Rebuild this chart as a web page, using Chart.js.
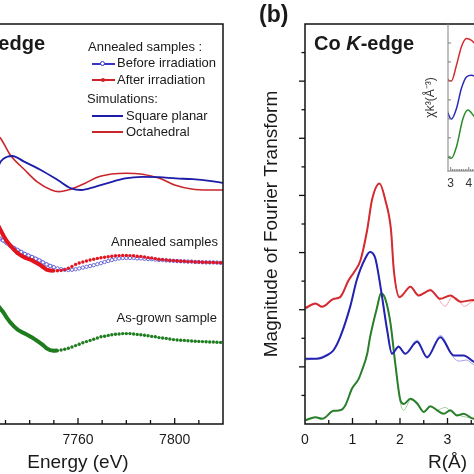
<!DOCTYPE html>
<html>
<head>
<meta charset="utf-8">
<script src="https://cdn.jsdelivr.net/npm/chart.js@4.4.1/dist/chart.umd.min.js"></script>
<style>
  html, body { margin: 0; padding: 0; background: #fff; }
  body { position: relative; width: 474px; height: 474px; overflow: hidden;
         font-family: "Liberation Sans", Arial, sans-serif; color: #1a1a1a; }
  canvas { position: absolute; top: 0; }
  .t { position: absolute; white-space: nowrap; font-size: 13px; line-height: 15px; }
  .big { position: absolute; white-space: nowrap; font-weight: bold; font-size: 20px; line-height: 22px; }
  .ln { position: absolute; }
  .mk { position: absolute; border-radius: 50%; box-sizing: border-box; }
</style>
</head>
<body>
<canvas id="xanes" width="357" height="474" style="left:-120px"></canvas>
<canvas id="ft" width="370" height="474" style="left:237px"></canvas>
<canvas id="kspace" width="140" height="200" style="left:400px"></canvas>

<div class="big" style="left:-55px;top:32px">Co <i>K</i>-edge</div>
<div class="big" style="left:314px;top:32px">Co <i>K</i>-edge</div>
<div class="big" style="left:259px;top:2px;font-size:23px;line-height:24px">(b)</div>

<div class="t" style="left:88px;top:39px">Annealed samples :</div>
<div class="ln" style="left:92px;top:63px;width:23px;height:1.5px;background:#3535c8"></div>
<div class="mk" style="left:100px;top:61px;width:5px;height:5px;border:1px solid #3535c8;background:#fff"></div>
<div class="t" style="left:117px;top:55px">Before irradiation</div>
<div class="ln" style="left:92px;top:79px;width:23px;height:1.5px;background:#d42028"></div>
<div class="mk" style="left:101px;top:78px;width:4px;height:4px;background:#d42028"></div>
<div class="t" style="left:117px;top:72px">After irradiation</div>
<div class="t" style="left:87px;top:91px">Simulations:</div>
<div class="ln" style="left:92px;top:115px;width:31px;height:2px;background:#1c1ca8"></div>
<div class="t" style="left:126px;top:108px">Square planar</div>
<div class="ln" style="left:92px;top:131px;width:31px;height:1.6px;background:#c9262c"></div>
<div class="t" style="left:126px;top:124px">Octahedral</div>

<div class="t" style="right:256px;top:234px">Annealed samples</div>
<div class="t" style="right:257px;top:310px">As-grown sample</div>

<script>
// ---- (a) XANES, energies in eV, intensity offset units ----
var expEnergy = [7726, 7727.5, 7729, 7730.5, 7732, 7733.5, 7735, 7736.5, 7738, 7739.5,
  7741, 7742.5, 7744, 7745.5, 7747, 7748.5, 7750, 7751.5, 7753, 7754.5,
  7756, 7757.5, 7759, 7760.5, 7762, 7763.5, 7765, 7766.5, 7768, 7769.5,
  7771, 7772.5, 7774, 7775.5, 7777, 7778.5, 7780, 7781.5, 7783, 7784.5,
  7786, 7787.5, 7789, 7790.5, 7792, 7793.5, 7795, 7796.5, 7798, 7799.5,
  7801, 7802.5, 7804, 7805.5, 7807, 7808.5, 7810, 7811.5, 7813, 7814.5,
  7816, 7817.5, 7819];
var afterIrr = [50.75, 49.0, 47.25, 45.75, 44.6, 43.6, 42.7, 42.1, 41.6, 41.25,
  40.9, 40.4, 39.9, 39.25, 38.6, 38.4, 38.3, 38.3, 38.4, 38.6,
  38.95, 39.4, 39.9, 40.25, 40.5, 40.75, 41.0, 41.2, 41.4, 41.55,
  41.7, 41.8, 41.95, 42.05, 42.1, 42.15, 42.15, 42.1, 42.05, 41.95,
  41.9, 41.75, 41.6, 41.5, 41.35, 41.2, 41.1, 41.0, 40.9, 40.85,
  40.8, 40.7, 40.7, 40.6, 40.6, 40.5, 40.5, 40.45, 40.45, 40.4,
  40.4, 40.35, 40.3];
var beforeIrr = [46.75, 46.4, 45.9, 45.25, 44.6, 44.0, 43.5, 43.0, 42.5, 42.1,
  41.75, 41.3, 40.9, 40.4, 39.9, 39.5, 39.2, 38.9, 38.7, 38.55,
  38.5, 38.55, 38.7, 38.9, 39.1, 39.3, 39.5, 39.7, 39.95, 40.2,
  40.5, 40.75, 41.0, 41.2, 41.4, 41.5, 41.5, 41.5, 41.5, 41.4,
  41.4, 41.3, 41.25, 41.2, 41.1, 41.0, 41.0, 40.9, 40.85, 40.8,
  40.75, 40.7, 40.65, 40.6, 40.6, 40.5, 40.5, 40.45, 40.4, 40.4,
  40.4, 40.35, 40.3];
var asGrown = [30.25, 29.1, 28.0, 26.6, 25.4, 24.4, 23.6, 23.05, 22.6, 22.1,
  21.6, 21.05, 20.4, 19.75, 18.9, 18.45, 18.3, 18.35, 18.5, 18.7,
  18.95, 19.25, 19.6, 19.95, 20.3, 20.6, 20.9, 21.2, 21.5, 21.8,
  21.95, 22.15, 22.3, 22.45, 22.5, 22.6, 22.6, 22.6, 22.5, 22.4,
  22.3, 22.2, 22.05, 21.9, 21.8, 21.6, 21.5, 21.4, 21.25, 21.1,
  21.0, 20.95, 20.9, 20.8, 20.75, 20.7, 20.65, 20.6, 20.55, 20.5,
  20.5, 20.45, 20.4];
var octE = [7722, 7726.5, 7728, 7732, 7738, 7743, 7749, 7752, 7757, 7763,
  7768, 7774, 7780, 7786, 7794, 7800, 7807, 7814, 7820];
var octV = [77, 72.25, 71.4, 67.25, 63.5, 60.6, 58.5, 58.1, 58.7, 60.2,
  61.7, 62.5, 62.7, 62.5, 61.4, 59.75, 58.75, 58.5, 58.5];
var sqE = [7722, 7726.5, 7728, 7730.7, 7732.8, 7737.7, 7744.6, 7751.6, 7757.2, 7761.4,
  7767, 7772.6, 7779.5, 7786.5, 7793.5, 7800.5, 7807.4, 7814.4, 7820];
var sqV = [57, 63.5, 65.6, 66.8, 67, 65.6, 63.5, 61, 58.9, 58.5,
  59.3, 60.3, 61.4, 61.8, 61.7, 61.4, 61.2, 60.8, 60.3];

// ---- (b) Fourier transform magnitude vs R (Å) ----
var redR = [0.01, 0.22, 0.36, 0.6, 0.74, 0.92, 1.06, 1.17, 1.31, 1.41, 1.57, 1.69,
  1.81, 1.87, 1.99, 2.22, 2.39, 2.64, 2.85, 3.06, 3.27, 3.55, 3.7];
var redV = [2.03, 2.11, 2.05, 2.19, 2.22, 2.52, 2.69, 2.87, 3.4, 3.92, 4.21, 3.92,
  3.4, 2.69, 2.22, 2.4, 2.25, 2.34, 2.19, 2.25, 2.14, 2.17, 2.15];
var redFitR = [0.01, 0.22, 0.36, 0.6, 0.74, 0.92, 1.06, 1.17, 1.31, 1.41, 1.57, 1.69,
  1.81, 1.87, 1.99, 2.22, 2.39, 2.64, 2.8, 2.95, 3.1, 3.2, 3.36, 3.55, 3.7];
var redFitV = [2.0, 2.1, 2.06, 2.18, 2.24, 2.5, 2.7, 2.88, 3.4, 3.92, 4.2, 3.93,
  3.4, 2.7, 2.24, 2.4, 2.24, 2.36, 2.2, 2.06, 2.22, 2.2, 2.06, 2.15, 2.15];
var blueR = [0.01, 0.25, 0.46, 0.6, 0.74, 0.95, 1.09, 1.27, 1.37, 1.48, 1.59, 1.73,
  1.83, 1.97, 2.11, 2.36, 2.57, 2.85, 3.13, 3.34, 3.55, 3.7];
var blueV = [1.14, 1.14, 1.2, 1.29, 1.52, 2.05, 2.52, 2.9, 3.01, 2.9, 2.4, 1.64,
  1.23, 1.35, 1.23, 1.44, 1.17, 1.52, 1.2, 1.2, 1.09, 1.05];
var blueFitR = [0.01, 0.25, 0.46, 0.6, 0.74, 0.95, 1.09, 1.27, 1.37, 1.48, 1.59, 1.73,
  1.83, 1.97, 2.11, 2.36, 2.57, 2.85, 3.13, 3.25, 3.4, 3.55, 3.7];
var blueFitV = [1.12, 1.15, 1.22, 1.3, 1.52, 2.05, 2.52, 2.9, 3.02, 2.9, 2.4, 1.64,
  1.25, 1.37, 1.22, 1.47, 1.15, 1.55, 1.16, 1.1, 1.12, 1.04, 1.03];
var greenR = [0.01, 0.22, 0.36, 0.6, 0.74, 0.85, 0.99, 1.13, 1.2, 1.31, 1.37, 1.52,
  1.6, 1.69, 1.8, 1.9, 2.01, 2.08, 2.22, 2.36, 2.5, 2.64, 2.78, 2.92, 3.06, 3.2,
  3.34, 3.55, 3.7];
var greenV = [0.065, 0.12, 0.09, 0.23, 0.24, 0.33, 0.62, 0.79, 0.94, 1.23, 1.52, 2.05,
  2.29, 2.19, 1.76, 1.06, 0.41, 0.35, 0.44, 0.36, 0.21, 0.31, 0.24, 0.18, 0.24, 0.15,
  0.18, 0.09, 0.1];
var greenFitR = [0.01, 0.22, 0.36, 0.6, 0.74, 0.85, 0.99, 1.13, 1.2, 1.31, 1.37, 1.52,
  1.6, 1.69, 1.8, 1.9, 2.01, 2.08, 2.22, 2.36, 2.5, 2.64, 2.8, 2.95, 3.1, 3.25,
  3.4, 3.55, 3.7];
var greenFitV = [0.06, 0.12, 0.1, 0.22, 0.25, 0.33, 0.62, 0.79, 0.94, 1.23, 1.52, 2.05,
  2.28, 2.2, 1.76, 1.06, 0.36, 0.24, 0.42, 0.38, 0.2, 0.3, 0.25, 0.29, 0.2, 0.15,
  0.12, 0.1, 0.1];

// ---- inset: chi(k) k^3 ----
var insetK = [2.8, 2.85, 3.04, 3.32, 3.59, 3.87, 4.15, 4.4];
var insetRed = [4.15, 4.06, 4.0, 4.83, 5.79, 6.23, 6.14, 5.9];
var insetBlue = [2.45, 2.29, 1.99, 2.55, 3.6, 4.21, 4.3, 4.22];
var insetGreenK = [2.8, 2.85, 3.04, 3.32, 3.68, 3.96, 4.24, 4.4];
var insetGreen = [0.1, 0.0, -0.08, 0.53, 2.02, 2.46, 2.2, 2.0];

Chart.defaults.font.family = '"Liberation Sans", Arial, sans-serif';
Chart.defaults.color = '#1a1a1a';

function pts(xs, ys) {
  return xs.map(function (x, i) { return {x: x, y: ys[i]}; });
}

function isMajor(v, step) {
  return Math.abs(v / step - Math.round(v / step)) < 1e-6;
}

function drawTickMarks(chart, t) {
  var s = chart.scales[t.id], a = chart.chartArea, ctx = chart.ctx;
  ctx.save();
  ctx.strokeStyle = t.color;
  ctx.lineWidth = t.width;
  s.ticks.forEach(function (tick) {
    var v = tick.value;
    var len = isMajor(v, t.major) ? t.len[0] : t.len[1];
    var p = s.getPixelForValue(v);
    var dir = t.inward ? -1 : 1;
    if (s.isHorizontal()) {
      if (p <= a.left + 0.5 || p >= a.right - 0.5) return;
      ctx.beginPath();
      ctx.moveTo(p, a.bottom);
      ctx.lineTo(p, a.bottom + dir * len);
    } else {
      if (p <= a.top + 0.5 || p >= a.bottom - 0.5) return;
      ctx.beginPath();
      ctx.moveTo(a.left, p);
      ctx.lineTo(a.left - dir * len, p);
    }
    ctx.stroke();
  });
  ctx.restore();
}

function makeFrame(cfg) {
  return {
    id: 'frame',
    afterDatasetsDraw: function (chart) {
      var a = chart.chartArea, ctx = chart.ctx;
      ctx.save();
      ctx.strokeStyle = cfg.color;
      ctx.lineWidth = cfg.width;
      ctx.lineCap = 'square';
      ctx.beginPath();
      cfg.sides.forEach(function (side) {
        if (side === 'top') { ctx.moveTo(a.left, a.top); ctx.lineTo(a.right, a.top); }
        if (side === 'bottom') { ctx.moveTo(a.left, a.bottom); ctx.lineTo(a.right, a.bottom); }
        if (side === 'left') { ctx.moveTo(a.left, a.top); ctx.lineTo(a.left, a.bottom); }
        if (side === 'right') { ctx.moveTo(a.right, a.top); ctx.lineTo(a.right, a.bottom); }
      });
      ctx.stroke();
      ctx.restore();
      cfg.ticks.forEach(function (t) { drawTickMarks(chart, t); });
    }
  };
}

// steep part of the measured spectra is dense enough to look like a thick line
function denseUntil(limit, color) {
  return {
    borderColor: function (c) { return c.p1.parsed.x <= limit ? color : 'rgba(0,0,0,0)'; }
  };
}

var baseOpts = {
  responsive: false,
  animation: false,
  devicePixelRatio: 1,
  events: [],
  plugins: { legend: { display: false }, tooltip: { enabled: false } }
};

function opts(extra) {
  return Object.assign({}, baseOpts, extra);
}

// ---------- panel (a) ----------
new Chart(document.getElementById('xanes'), {
  type: 'line',
  data: {
    datasets: [
      { label: 'After irradiation', data: pts(expEnergy, afterIrr), showLine: true, borderWidth: 4,
        segment: denseUntil(7750, '#e3141e'), pointRadius: 1.7, pointBorderWidth: 0,
        pointBackgroundColor: '#e3141e' },
      { label: 'Before irradiation', data: pts(expEnergy, beforeIrr), showLine: true, borderWidth: 4,
        segment: denseUntil(7750, 'rgba(95,95,225,0.6)'), pointRadius: 1.7, pointBorderWidth: 0.9,
        pointBorderColor: '#5a5ad8', pointBackgroundColor: '#fff' },
      { label: 'As-grown sample', data: pts(expEnergy, asGrown), showLine: true, borderWidth: 4,
        segment: denseUntil(7752, '#1f7d1f'), pointRadius: 1.7, pointBorderWidth: 0,
        pointBackgroundColor: '#1f7d1f' },
      { label: 'Square planar', data: pts(sqE, sqV), borderColor: '#1c1ca8', borderWidth: 1.8,
        pointRadius: 0, cubicInterpolationMode: 'monotone' },
      { label: 'Octahedral', data: pts(octE, octV), borderColor: '#c9262c', borderWidth: 1.6,
        pointRadius: 0, cubicInterpolationMode: 'monotone' }
    ]
  },
  options: opts({
    layout: { padding: { left: 53, right: 14, top: 24, bottom: 0 } },
    scales: {
      x: {
        type: 'linear', min: 7700, max: 7820,
        grid: { display: false, drawTicks: false }, border: { display: false },
        ticks: { stepSize: 10, maxTicksLimit: 1000, autoSkip: false, maxRotation: 0, padding: 8,
          font: { size: 14 },
          callback: function (v) { return v % 40 === 0 ? String(v) : ''; } },
        title: { display: true, text: 'Energy (eV)', font: { size: 19 }, padding: 0 },
        afterFit: function (s) { s.height = 50; }
      },
      y: { display: false, min: 0, max: 100 }
    }
  }),
  plugins: [makeFrame({
    color: '#111', width: 1.5, sides: ['top', 'right', 'bottom', 'left'],
    ticks: [{ id: 'x', major: 40, len: [6, 4], inward: true, color: '#111', width: 1.3 }]
  })]
});

// ---------- panel (b) ----------
function ftLine(label, xs, ys, color, w) {
  return { label: label, data: pts(xs, ys), borderColor: color, borderWidth: w,
    pointRadius: 0, cubicInterpolationMode: 'monotone' };
}

new Chart(document.getElementById('ft'), {
  type: 'line',
  data: {
    datasets: [
      ftLine('Red', redR, redV, '#d42a30', 2),
      ftLine('Blue', blueR, blueV, '#2323b0', 2),
      ftLine('Green', greenR, greenV, '#2a7f2a', 2),
      ftLine('Red fit', redFitR, redFitV, '#eaa5a8', 1),
      ftLine('Blue fit', blueFitR, blueFitV, '#a0a0e8', 1),
      ftLine('Green fit', greenFitR, greenFitV, '#a3cca3', 1)
    ]
  },
  options: opts({
    layout: { padding: { left: 23, right: 17, top: 24, bottom: 0 } },
    scales: {
      x: {
        type: 'linear', min: 0, max: 6,
        grid: { display: false, drawTicks: false }, border: { display: false },
        ticks: { stepSize: 0.5, maxTicksLimit: 1000, autoSkip: false, maxRotation: 0, padding: 8,
          font: { size: 14 },
          callback: function (v) { return (Number.isInteger(v) && v < 6) ? String(v) : ''; } },
        title: { display: true, text: 'R(Å)', font: { size: 19 }, padding: 0 },
        afterFit: function (s) { s.height = 50; }
      },
      y: {
        min: 0, max: 7,
        grid: { display: false, drawTicks: false }, border: { display: false },
        ticks: { display: false, stepSize: 0.5, maxTicksLimit: 1000 },
        title: { display: true, text: 'Magnitude of Fourier Transform', font: { size: 19 }, padding: 0 },
        afterFit: function (s) { s.width = 45; }
      }
    }
  }),
  plugins: [makeFrame({
    color: '#111', width: 1.5, sides: ['top', 'right', 'bottom', 'left'],
    ticks: [
      { id: 'x', major: 1, len: [6, 4], inward: true, color: '#111', width: 1.3 },
      { id: 'y', major: 1, len: [6, 3.5], inward: false, color: '#111', width: 1.3 }
    ]
  })]
});

// ---------- inset ----------
new Chart(document.getElementById('kspace'), {
  type: 'line',
  data: {
    datasets: [
      ftLine('Red', insetK, insetRed, '#d42a30', 1.5),
      ftLine('Blue', insetK, insetBlue, '#2a2ab8', 1.5),
      ftLine('Green', insetGreenK, insetGreen, '#2a8a2a', 1.5)
    ]
  },
  options: opts({
    layout: { padding: { left: 23, right: 8, top: 24, bottom: 0 } },
    scales: {
      x: {
        type: 'linear', min: 2.85, max: 7.5,
        grid: { display: false, drawTicks: false }, border: { display: false },
        ticks: { stepSize: 0.1, maxTicksLimit: 1000, autoSkip: false, maxRotation: 0, padding: 5,
          font: { size: 12 }, color: '#333',
          callback: function (v) { return isMajor(v, 1) && v < 7.5 ? String(Math.round(v)) : ''; } },
        afterFit: function (s) { s.height = 29; }
      },
      y: {
        min: -0.75, max: 7,
        grid: { display: false, drawTicks: false }, border: { display: false },
        ticks: { display: false, stepSize: 1, maxTicksLimit: 1000 },
        title: { display: true, text: 'χk³(Å⁻³)', font: { size: 12 }, color: '#333', padding: 0 },
        afterFit: function (s) { s.width = 25; }
      }
    }
  }),
  plugins: [makeFrame({
    color: '#808080', width: 1, sides: ['left', 'bottom'],
    ticks: [
      { id: 'x', major: 1, len: [4, 2], inward: true, color: '#808080', width: 1 },
      { id: 'y', major: 1, len: [3, 3], inward: true, color: '#808080', width: 1 }
    ]
  })]
});
</script>
</body>
</html>
